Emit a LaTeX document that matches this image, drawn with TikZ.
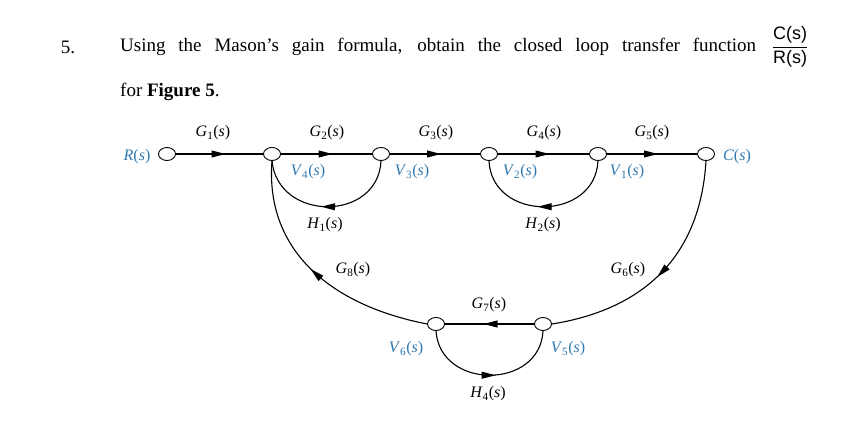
\documentclass[tikz,border=0pt]{standalone}
\usepackage{fontspec}
\setmainfont{Liberation Serif}
\newfontfamily\sansf{Liberation Sans}
\usetikzlibrary{shapes.geometric,decorations.markings}
\definecolor{lblue}{RGB}{45,120,175}
\newcommand{\lbl}[3]{\textit{#1}\textsubscript{#2}(\textit{#3})}
\begin{document}
\begin{tikzpicture}[x=1pt,y=-1pt,
  nd/.style={ellipse,draw,line width=0.9pt,fill=white,minimum width=17pt,minimum height=13pt,inner sep=0pt},
  br/.style={line width=1.1pt,postaction={decorate},decoration={markings,mark=at position 0.5 with {\fill (6,0)--(-8,-3.6)--(-8,3.6)--cycle;}}},
  gl/.style={font=\fontsize{16}{18}\selectfont},
  bl/.style={font=\fontsize{16}{18}\selectfont,text=lblue}]
\useasboundingbox (0,0) rectangle (846,427);
\node[font=\fontsize{19}{22}\selectfont] at (68,47) {5.};
\node[font=\fontsize{19}{22}\selectfont,anchor=west,inner sep=0pt] (t1) at (120,47) {\hbox to 636pt{\spaceskip=4pt plus 20pt Using the Mason's gain formula, obtain the closed loop transfer function}};
\node[font=\fontsize{18}{20}\selectfont] (fr) at (790,47) {\sansf$\displaystyle\frac{\mbox{C(s)}}{\mbox{R(s)}}$};
\node[font=\fontsize{19}{22}\selectfont,anchor=west,inner sep=0pt] (t2) at (120,92) {for \textbf{Figure 5}.};
\node[nd] (R) at (167,154) {};
\node[nd] (V4) at (272,154) {};
\node[nd] (V3) at (381,154) {};
\node[nd] (V2) at (489,154) {};
\node[nd] (V1) at (598,154) {};
\node[nd] (C) at (706,154) {};
\node[nd] (V6) at (436,324) {};
\node[nd] (V5) at (543,324) {};
\draw[br] (R) -- (V4);
\draw[br] (V4) -- (V3);
\draw[br] (V3) -- (V2);
\draw[br] (V2) -- (V1);
\draw[br] (V1) -- (C);
\draw[br] (V5) -- (V6);
\draw[br] (V3.south) .. controls (378,222) and (278,222) .. (V4.south);
\draw[br] (V1.south) .. controls (595,222) and (492,222) .. (V2.south);
\draw[br] (V6.south) .. controls (440,390) and (540,390) .. (V5.south);
\draw[br] (V6.west) .. controls (330,305) and (265,250) .. (V4.south);
\draw[br] (C.south) .. controls (700,260) and (640,310) .. (V5.east);
\node[gl] at (213,133) {\lbl{G}{1}{s}};
\node[gl] at (327,133) {\lbl{G}{2}{s}};
\node[gl] at (436,133) {\lbl{G}{3}{s}};
\node[gl] at (544,133) {\lbl{G}{4}{s}};
\node[gl] at (652,133) {\lbl{G}{5}{s}};
\node[gl] at (325,225) {\lbl{H}{1}{s}};
\node[gl] at (543,225) {\lbl{H}{2}{s}};
\node[gl] at (353,270) {\lbl{G}{8}{s}};
\node[gl] at (628,270) {\lbl{G}{6}{s}};
\node[gl] at (489,305) {\lbl{G}{7}{s}};
\node[gl] at (488,394) {\lbl{H}{4}{s}};
\node[bl] at (137,157) {\textit{R}(\textit{s})};
\node[bl] at (737,157) {\textit{C}(\textit{s})};
\node[bl] at (308,172) {\lbl{V}{4}{s}};
\node[bl] at (412,172) {\lbl{V}{3}{s}};
\node[bl] at (520,172) {\lbl{V}{2}{s}};
\node[bl] at (627,172) {\lbl{V}{1}{s}};
\node[bl] at (406,349) {\lbl{V}{6}{s}};
\node[bl] at (568,349) {\lbl{V}{5}{s}};
\end{tikzpicture}
\end{document}
